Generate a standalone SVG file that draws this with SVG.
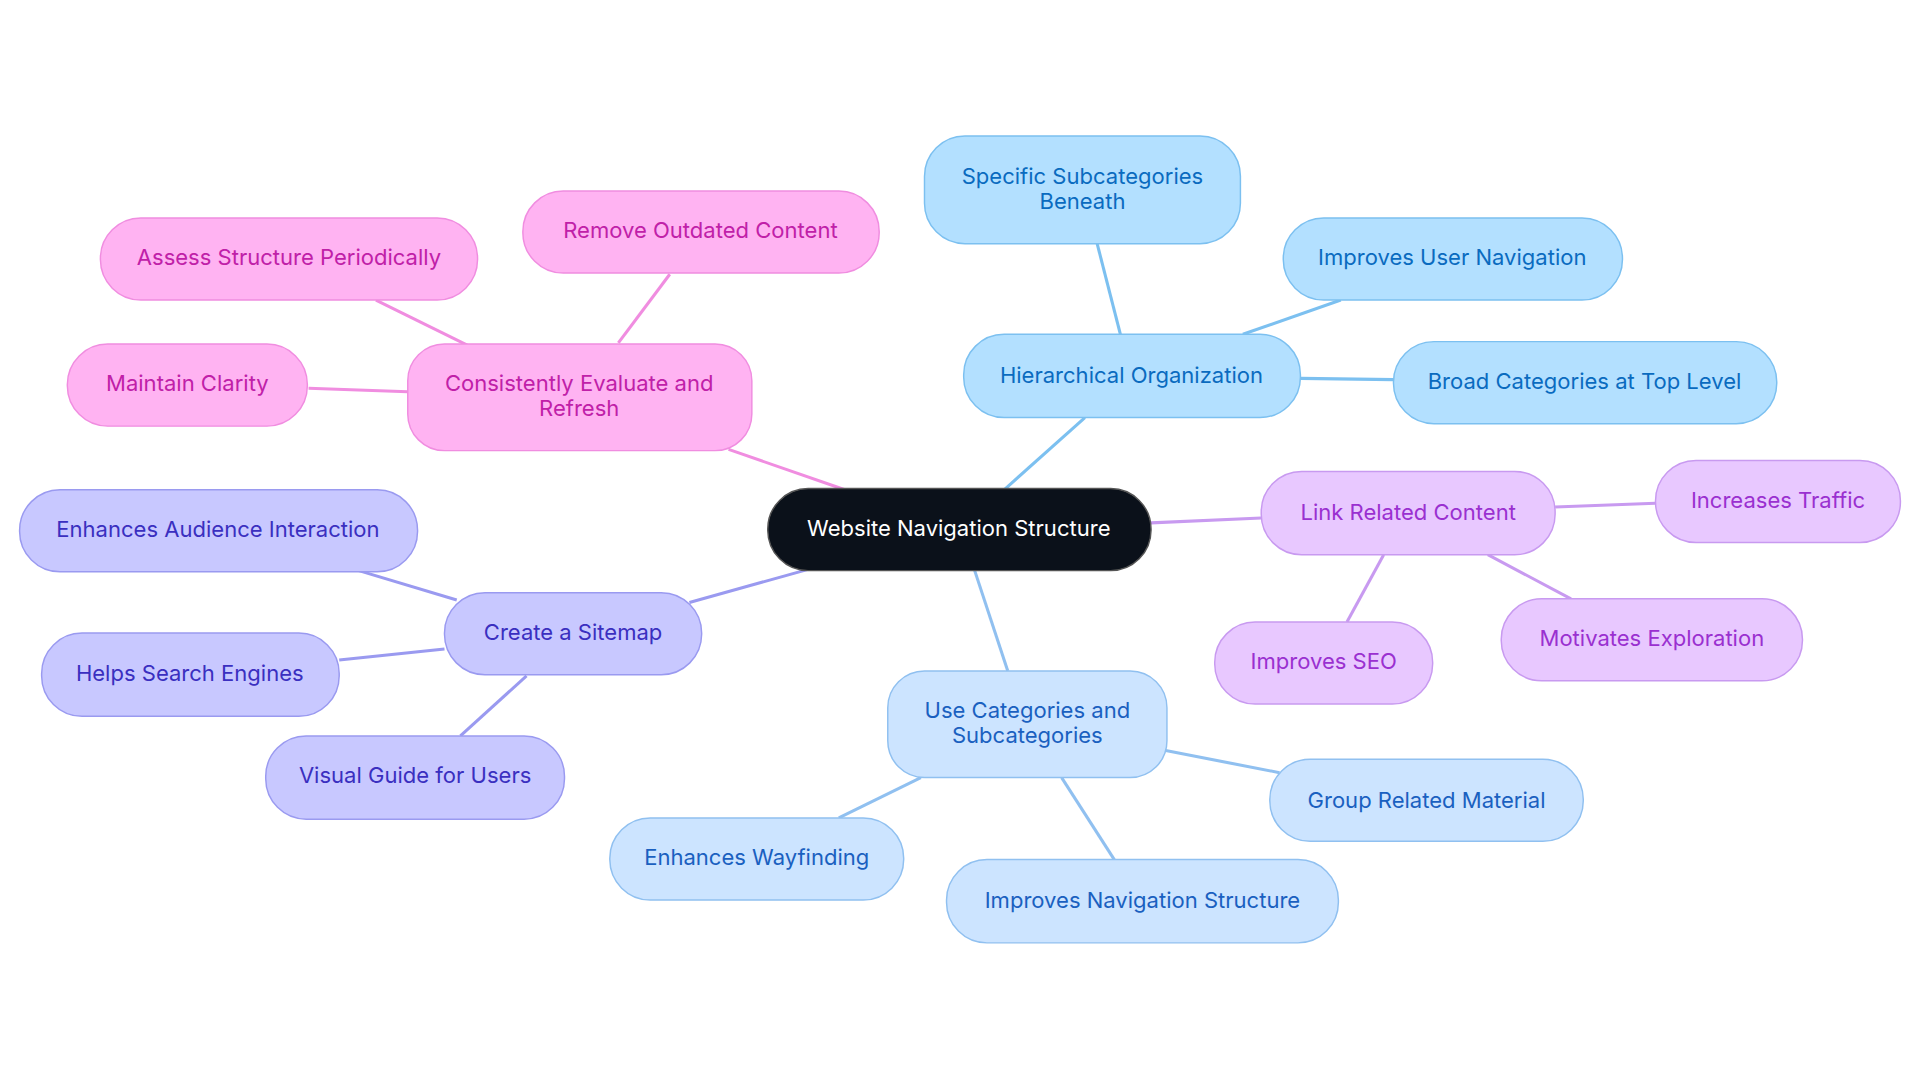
<svg xmlns="http://www.w3.org/2000/svg" width="1920" height="1083" viewBox="0 0 1920 1083">
<style>
text{font-family:Inter,"Noto Sans",sans-serif;font-size:18px;text-anchor:middle;dominant-baseline:central}
.b rect{fill:#b3e0ff;stroke:#7cc0f0}.b text{fill:#0a6bbf}
.p rect{fill:#ffb3f2;stroke:#f08de0}.p text{fill:#c020a8}
.l rect{fill:#c8c8ff;stroke:#9a9af0}.l text{fill:#3a2fc0}
.v rect{fill:#e8c8ff;stroke:#c89af0}.v text{fill:#9a30d0}
.c rect{fill:#cce4ff;stroke:#90c0f0}.c text{fill:#1a60c0}
rect{stroke-width:1.2}
#edges line{stroke-width:2.5}
</style>
<rect width="1920" height="1083" fill="#fff"/>
<g transform="scale(1.2245)">
<g id="edges">
<line x1="690" y1="400" x2="595" y2="367" stroke="#f08de0"/>
<line x1="505" y1="280" x2="547" y2="224" stroke="#f08de0"/>
<line x1="382" y1="282" x2="307" y2="245" stroke="#f08de0"/>
<line x1="333" y1="320" x2="252" y2="317" stroke="#f08de0"/>
<line x1="820" y1="400" x2="886" y2="341" stroke="#7cc0f0"/>
<line x1="915" y1="273" x2="896" y2="199" stroke="#7cc0f0"/>
<line x1="1015" y1="273" x2="1095" y2="245" stroke="#7cc0f0"/>
<line x1="1062" y1="309" x2="1138" y2="310" stroke="#7cc0f0"/>
<line x1="940" y1="427" x2="1030" y2="423" stroke="#c89af0"/>
<line x1="1270" y1="414" x2="1352" y2="411" stroke="#c89af0"/>
<line x1="1130" y1="453" x2="1100" y2="508" stroke="#c89af0"/>
<line x1="1215" y1="453" x2="1283" y2="489" stroke="#c89af0"/>
<line x1="660" y1="465" x2="563" y2="492" stroke="#9a9af0"/>
<line x1="373" y1="490" x2="293" y2="466" stroke="#9a9af0"/>
<line x1="363" y1="530" x2="277" y2="539" stroke="#9a9af0"/>
<line x1="430" y1="552" x2="376" y2="601" stroke="#9a9af0"/>
<line x1="796" y1="466" x2="823" y2="548" stroke="#90c0f0"/>
<line x1="952" y1="613" x2="1045" y2="631" stroke="#90c0f0"/>
<line x1="867" y1="635" x2="910" y2="702" stroke="#90c0f0"/>
<line x1="752" y1="635" x2="685" y2="668" stroke="#90c0f0"/>
</g>
<g id="root"><rect x="627" y="399" width="313" height="67" rx="33" fill="#0b111a" stroke="#555"/><text x="783" y="431" fill="#fff">Website Navigation Structure</text></g>
<g id="n1" class="p"><rect x="333" y="281" width="281" height="87" rx="30"/><text x="473" y="313">Consistently Evaluate and</text><text x="473" y="333">Refresh</text></g>
<g id="n2" class="p"><rect x="427" y="156" width="291" height="67" rx="33"/><text x="572" y="188">Remove Outdated Content</text></g>
<g id="n3" class="p"><rect x="82" y="178" width="308" height="67" rx="33"/><text x="236" y="210">Assess Structure Periodically</text></g>
<g id="n4" class="p"><rect x="55" y="281" width="196" height="67" rx="33"/><text x="153" y="313">Maintain Clarity</text></g>
<g id="n5" class="b"><rect x="787" y="273" width="275" height="68" rx="33"/><text x="924" y="306">Hierarchical Organization</text></g>
<g id="n6" class="b"><rect x="755" y="111" width="258" height="88" rx="33"/><text x="884" y="144">Specific Subcategories</text><text x="884" y="164">Beneath</text></g>
<g id="n7" class="b"><rect x="1048" y="178" width="277" height="67" rx="33"/><text x="1186" y="210">Improves User Navigation</text></g>
<g id="n8" class="b"><rect x="1138" y="279" width="313" height="67" rx="33"/><text x="1294" y="311">Broad Categories at Top Level</text></g>
<g id="n9" class="v"><rect x="1030" y="385" width="240" height="68" rx="33"/><text x="1150" y="418">Link Related Content</text></g>
<g id="n10" class="v"><rect x="1352" y="376" width="200" height="67" rx="33"/><text x="1452" y="408">Increases Traffic</text></g>
<g id="n11" class="v"><rect x="992" y="508" width="178" height="67" rx="33"/><text x="1081" y="540">Improves SEO</text></g>
<g id="n12" class="v"><rect x="1226" y="489" width="246" height="67" rx="33"/><text x="1349" y="521">Motivates Exploration</text></g>
<g id="n13" class="l"><rect x="363" y="484" width="210" height="67" rx="33"/><text x="468" y="516">Create a Sitemap</text></g>
<g id="n14" class="l"><rect x="16" y="400" width="325" height="67" rx="33"/><text x="178" y="432">Enhances Audience Interaction</text></g>
<g id="n15" class="l"><rect x="34" y="517" width="243" height="68" rx="33"/><text x="155" y="550">Helps Search Engines</text></g>
<g id="n16" class="l"><rect x="217" y="601" width="244" height="68" rx="33"/><text x="339" y="633">Visual Guide for Users</text></g>
<g id="n17" class="c"><rect x="725" y="548" width="228" height="87" rx="30"/><text x="839" y="580">Use Categories and</text><text x="839" y="600">Subcategories</text></g>
<g id="n18" class="c"><rect x="1037" y="620" width="256" height="67" rx="33"/><text x="1165" y="653">Group Related Material</text></g>
<g id="n19" class="c"><rect x="773" y="702" width="320" height="68" rx="33"/><text x="933" y="735">Improves Navigation Structure</text></g>
<g id="n20" class="c"><rect x="498" y="668" width="240" height="67" rx="33"/><text x="618" y="700">Enhances Wayfinding</text></g>
</g>
</svg>
